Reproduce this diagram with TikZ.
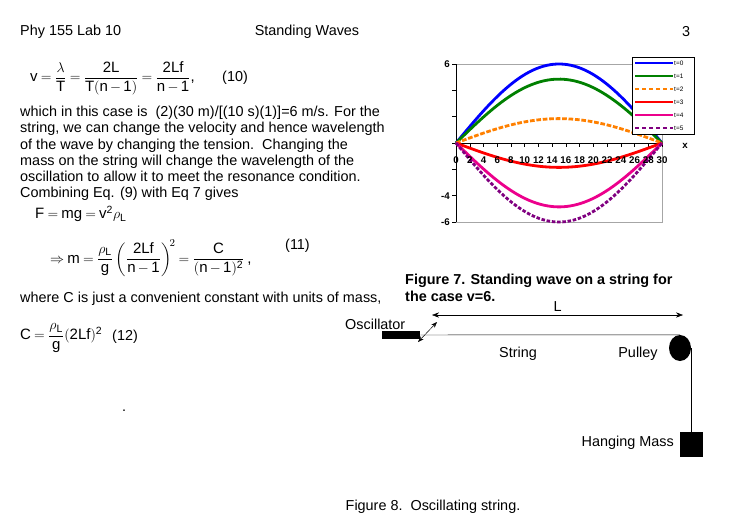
\documentclass[tikz,border=0pt]{standalone}
\usepackage{amsmath}
\usepackage{fontspec}
\setmainfont{Liberation Sans}
\usetikzlibrary{arrows.meta}
\usetikzlibrary{shapes.geometric}
\medmuskip=3mu
\thickmuskip=4mu
\definecolor{wblue}{rgb}{0, 0, 1}
\definecolor{wgreen}{rgb}{0, 0.5, 0}
\definecolor{worange}{rgb}{1, 0.5, 0}
\definecolor{wpurple}{rgb}{0.5, 0, 0.5}
\tikzset{
  body/.style={anchor=west, inner sep=0pt, font=\fontsize{12.3}{13.8}\selectfont},
  eqn/.style={anchor=west, inner sep=0pt, font=\fontsize{12.8}{14}\selectfont},
  wave/.style={line width=2.4pt},
  tick/.style={font=\fontsize{8.3}{9}\selectfont\bfseries, inner sep=0pt},
  key/.style={font=\fontsize{5.5}{6}\selectfont, anchor=west, inner sep=0pt}
}
\begin{document}
\begin{tikzpicture}[x=0.03cm, y=-0.03cm]
  \useasboundingbox (0, 0) rectangle (734, 524);

  % header
  \node [body] (hd) at (20, 32) {Phy 155 Lab 10};
  \node [body, anchor=center] (ttl) at (307, 32) {Standing Waves};
  \node [body] (pg) at (682, 32) {3};

  % left column
  \node [eqn] (eqa) at (30, 78) {$\mathrm{v}=\dfrac{\lambda}{\mathrm{T}}=\dfrac{\mathrm{2L}}{\mathrm{T(n-1)}}=\dfrac{\mathrm{2Lf}}{\mathrm{n-1}}$,};
  \node [body] (na) at (222, 78) {(10)};
  \node [body, anchor=north west, align=left] (txt) at (20, 106) {which in this case is \ (2)(30 m)/[(10 s)(1)]=6 m/s. For the\\
    string, we can change the velocity and hence wavelength\\
    of the wave by changing the tension.\ \ Changing the\\
    mass on the string will change the wavelength of the\\
    oscillation to allow it to meet the resonance condition.\\
    Combining Eq. (9) with Eq 7 gives};
  \node [eqn] (eqf) at (35, 214) {$\mathrm{F=mg=v^2\rho_L}$};
  \node [eqn] (eqm) at (50, 258) {$\Rightarrow\mathrm{m}=\dfrac{\rho_\mathrm{L}}{\mathrm{g}}\left(\dfrac{\mathrm{2Lf}}{\mathrm{n-1}}\right)^{\!2}=\dfrac{\mathrm{C}}{\mathrm{(n-1)^2}}$\,,};
  \node [body] (nb) at (285, 246) {(11)};
  \node [body] (wh) at (20, 299) {where C is just a convenient constant with units of mass,};
  \node [eqn] (eqc) at (20, 338) {$\mathrm{C}=\dfrac{\rho_\mathrm{L}}{\mathrm{g}}\mathrm{(2Lf)^2}$};
  \node [body] (nc) at (112, 337) {(12)};
  \node [body] (dot) at (122, 411) {.};

  % standing wave chart
  \draw [gray!70, line width=0.8pt] (456, 64) rectangle (662, 222);
  \draw (456, 64) -- (456, 222);
  \draw (456, 143) -- (662, 143);
  \foreach \v in {-6, -4, ..., 6}
    \draw (452, 143-\v*13.17) -- (456, 143-\v*13.17);
  \foreach \u in {0, 2, ..., 30}
    \draw (456+\u*6.867, 143) -- (456+\u*6.867, 147);
  \draw [wave, wblue] plot [domain=0:30, samples=60] ({456+\x*6.867}, {143-6*sin(\x*6)*13.17});
  \draw [wave, wgreen] plot [domain=0:30, samples=60] ({456+\x*6.867}, {143-4.85*sin(\x*6)*13.17});
  \draw [wave, worange, dash pattern=on 4pt off 1.5pt] plot [domain=0:30, samples=60] ({456+\x*6.867}, {143-1.85*sin(\x*6)*13.17});
  \draw [wave, red] plot [domain=0:30, samples=60] ({456+\x*6.867}, {143+1.85*sin(\x*6)*13.17});
  \draw [wave, magenta] plot [domain=0:30, samples=60] ({456+\x*6.867}, {143+4.85*sin(\x*6)*13.17});
  \draw [wave, wpurple, dash pattern=on 3pt off 1.5pt] plot [domain=0:30, samples=60] ({456+\x*6.867}, {143+6*sin(\x*6)*13.17});
  \foreach \u in {0, 2, ..., 30}
    \node [tick] at (456+\u*6.867, 160) {\u};
  \node [tick, anchor=east] (y6) at (450, 64) {6};
  \node [tick, anchor=east] (ym4) at (450, 196) {-4};
  \node [tick, anchor=east] (ym6) at (450, 222) {-6};
  \node [tick] (xl) at (685, 146) {x};

  % legend
  \draw [fill=white] (632, 57) rectangle (694, 134);
  \foreach \c/\s/\t/\y in {wblue/solid/0/63, wgreen/solid/1/76, worange/dashed/2/89, red/solid/3/102, magenta/solid/4/115, wpurple/dashed/5/128} {
    \draw [line width=2pt, \c, \s] (635, \y) -- (673, \y);
    \node [key] at (674, \y) {t=\t};
  }

  % figure 7 caption
  \node [body, anchor=north west, align=left, font=\fontsize{12.3}{14.5}\selectfont\bfseries] (cap7) at (405, 274) {Figure 7. Standing wave on a string for\\the case v=6.};

  % figure 8 apparatus
  \coordinate (la) at (432, 315);
  \coordinate (lb) at (683, 315);
  \draw [{Stealth[length=6pt]}-{Stealth[length=6pt]}] (la) -- (lb) node [midway, above=3pt, body, anchor=south] (lL) {L};
  \node [body] (osc) at (345, 324) {Oscillator};
  \node [fill=black, minimum width=38*0.03cm, minimum height=8*0.03cm, inner sep=0pt, anchor=west] (vib) at (382, 335) {};
  \node [fill=black, ellipse, minimum width=22*0.03cm, minimum height=26*0.03cm, inner sep=0pt] (pul) at (680, 348) {};
  \node [fill=black, minimum width=23*0.03cm, minimum height=25*0.03cm, inner sep=0pt, anchor=north west] (hm) at (680, 432) {};
  \draw (vib.east) -- (pul.north);
  \draw (pul.east) -- (pul.east |- hm.north);
  \coordinate (sa) at (418, 342);
  \coordinate (sb) at (437, 322);
  \draw [{Stealth[length=5pt]}-{Stealth[length=5pt]}] (sa) -- (sb);
  \node [body, anchor=center] (str) at (518, 354) {String};
  \node [body, anchor=center] (pl) at (638, 354) {Pulley};
  \node [body, anchor=east] (hml) at (674, 443) {Hanging Mass};
  \node [body, anchor=center] (cap8) at (433, 507) {Figure 8.\ \ Oscillating string.};
\end{tikzpicture}
\end{document}
